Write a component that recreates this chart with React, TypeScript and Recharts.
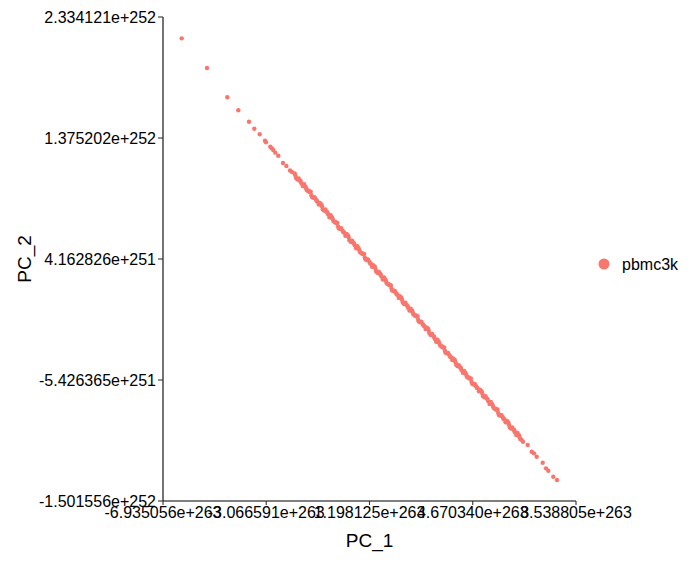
import React from "react";
import { ScatterChart, Scatter, XAxis, YAxis } from "recharts";

// PC_1 in units of 1e263, PC_2 in units of 1e252
const pc1 = [
  -6.234, -5.287, -4.526, -4.114, -3.713, -3.514, -3.312, -3.113, -3.076, -2.915,
  -2.862, -2.803, -2.728, -2.615, -2.439, -2.312, -2.177, -2.102,
  -2.0, -1.9, -1.8, -1.7, -1.6, -1.5, -1.4, -1.3, -1.2, -1.1,
  -1.0, -0.9, -0.8, -0.7, -0.6, -0.5, -0.4, -0.3, -0.2, -0.1,
  0.0, 0.1, 0.2, 0.3, 0.4, 0.5, 0.6, 0.7, 0.8, 0.9,
  1.0, 1.1, 1.2, 1.3, 1.4, 1.5, 1.6, 1.7, 1.8, 1.9,
  2.0, 2.1, 2.2, 2.3, 2.4, 2.5, 2.6, 2.7, 2.8, 2.9,
  3.0, 3.1, 3.2, 3.3, 3.4, 3.5, 3.6, 3.7, 3.8, 3.9,
  4.0, 4.1, 4.2, 4.3, 4.4, 4.5, 4.6, 4.7, 4.8, 4.9,
  5.0, 5.1, 5.2, 5.3, 5.4, 5.5, 5.6, 5.7, 5.8, 5.9,
  6.0, 6.1, 6.2, 6.3, 6.4, 6.5,
  -1.95, -1.85, -1.75, -1.65, -1.55, -1.45, -1.35, -1.25, -1.15, -1.05,
  -0.95, -0.85, -0.75, -0.65, -0.55, -0.45, -0.35, -0.25, -0.15, -0.05,
  0.05, 0.15, 0.25, 0.35, 0.45, 0.55, 0.65, 0.75, 0.85, 0.95,
  1.05, 1.15, 1.25, 1.35, 1.45, 1.55, 1.65, 1.75, 1.85, 1.95,
  2.05, 2.15, 2.25, 2.35, 2.45, 2.55, 2.65, 2.75, 2.85, 2.95,
  3.05, 3.15, 3.25, 3.35, 3.45, 3.55, 3.65, 3.75, 3.85, 3.95,
  4.05, 4.15, 4.25, 4.35, 4.45, 4.55, 4.65, 4.75, 4.85, 4.95,
  5.05, 5.15, 5.25, 5.35, 5.45, 5.55, 5.65, 5.75, 5.85, 5.95,
  6.05, 6.15, 6.25, 6.35, 6.45,
  -1.975, -1.875, -1.775, -1.675, -1.575, -1.475, -1.375, -1.275, -1.175, -1.075,
  -0.975, -0.875, -0.775, -0.675, -0.575, -0.475, -0.375, -0.275, -0.175, -0.075,
  0.025, 0.125, 0.225, 0.325, 0.425, 0.525, 0.625, 0.725, 0.825, 0.925,
  1.025, 1.125, 1.225, 1.325, 1.425, 1.525, 1.625, 1.725, 1.825, 1.925,
  2.025, 2.125, 2.225, 2.325, 2.425, 2.525, 2.625, 2.725, 2.825, 2.925,
  3.025, 3.125, 3.225, 3.325, 3.425, 3.525, 3.625, 3.725, 3.825, 3.925,
  4.025, 4.125, 4.225, 4.325, 4.425, 4.525, 4.625, 4.725, 4.825, 4.925,
  5.025, 5.125, 5.225, 5.325, 5.425, 5.525, 5.625, 5.725, 5.825, 5.925,
  6.025, 6.125, 6.225, 6.325, 6.425,
  6.553, 6.729, 6.879, 6.965, 7.066, 7.291, 7.415, 7.501, 7.688, 7.827,
];
const pc2 = [
  2.165, 1.93, 1.698, 1.595, 1.504, 1.449, 1.405, 1.354, 1.341, 1.306,
  1.294, 1.28, 1.259, 1.235, 1.177, 1.153, 1.118, 1.106,
  1.095, 1.046, 1.037, 0.994, 0.992, 0.956, 0.949, 0.901, 0.886, 0.848,
  0.848, 0.8, 0.79, 0.747, 0.746, 0.709, 0.702, 0.655, 0.639, 0.601,
  0.602, 0.553, 0.543, 0.501, 0.499, 0.462, 0.456, 0.408, 0.392, 0.355,
  0.355, 0.307, 0.297, 0.254, 0.253, 0.216, 0.209, 0.162, 0.146, 0.108,
  0.109, 0.06, 0.05, 0.008, 0.006, -0.031, -0.037, -0.085, -0.101, -0.138,
  -0.138, -0.187, -0.196, -0.239, -0.241, -0.277, -0.284, -0.332, -0.347, -0.385,
  -0.385, -0.433, -0.443, -0.486, -0.487, -0.524, -0.531, -0.578, -0.594, -0.632,
  -0.631, -0.68, -0.69, -0.732, -0.734, -0.771, -0.777, -0.825, -0.84, -0.878,
  -0.878, -0.927, -0.936, -0.979, -0.98, -1.017,
  1.058, 1.055, 1.016, 1.01, 0.963, 0.948, 0.907, 0.904, 0.872, 0.859,
  0.811, 0.808, 0.77, 0.763, 0.717, 0.702, 0.66, 0.658, 0.626, 0.612,
  0.565, 0.562, 0.523, 0.517, 0.47, 0.455, 0.414, 0.411, 0.379, 0.366,
  0.318, 0.315, 0.277, 0.27, 0.223, 0.209, 0.167, 0.164, 0.133, 0.119,
  0.071, 0.069, 0.03, 0.023, -0.023, -0.038, -0.08, -0.082, -0.114, -0.128,
  -0.175, -0.178, -0.217, -0.223, -0.27, -0.285, -0.326, -0.329, -0.361, -0.374,
  -0.422, -0.425, -0.463, -0.47, -0.517, -0.531, -0.573, -0.576, -0.607, -0.621,
  -0.669, -0.671, -0.71, -0.717, -0.763, -0.778, -0.82, -0.822, -0.854, -0.867,
  -0.915, -0.918, -0.956, -0.963, -1.01,
  1.079, 1.049, 1.033, 0.997, 0.977, 0.957, 0.922, 0.905, 0.876, 0.859,
  0.832, 0.803, 0.786, 0.75, 0.731, 0.71, 0.675, 0.659, 0.629, 0.612,
  0.586, 0.556, 0.539, 0.504, 0.484, 0.463, 0.429, 0.412, 0.382, 0.366,
  0.339, 0.309, 0.293, 0.257, 0.237, 0.217, 0.182, 0.165, 0.136, 0.119,
  0.092, 0.063, 0.046, 0.01, -0.009, -0.03, -0.065, -0.081, -0.111, -0.128,
  -0.154, -0.184, -0.201, -0.236, -0.256, -0.277, -0.311, -0.328, -0.358, -0.374,
  -0.401, -0.431, -0.447, -0.483, -0.502, -0.523, -0.558, -0.574, -0.604, -0.621,
  -0.647, -0.677, -0.694, -0.729, -0.749, -0.77, -0.804, -0.821, -0.851, -0.867,
  -0.894, -0.924, -0.94, -0.976, -0.996,
  -1.032, -1.058, -1.111, -1.124, -1.151, -1.198, -1.243, -1.262, -1.309, -1.335,
];

const xTicks = [-6.935056, -3.066591, 0.801874, 4.67034, 8.538805];
const xTickLabels = [
  "-6.935056e+263",
  "-3.066591e+263",
  "1.198125e+263",
  "4.670340e+263",
  "8.538805e+263",
];
const yTicks = [-1.501556, -0.5426365, 0.4162826, 1.375202, 2.334121];
const yTickLabels = [
  "-1.501556e+252",
  "-5.426365e+251",
  "4.162826e+251",
  "1.375202e+252",
  "2.334121e+252",
];

const sampleName = "pbmc3k";
const pointColor = "#F8766D";
const font = "'Liberation Sans', Arial, Helvetica, sans-serif";

const data = pc1.map((x, i) => ({ x, y: pc2[i] }));

const Dot = (props: any) => (
  <circle cx={props.cx} cy={props.cy} r={2.2} fill={pointColor} />
);

export default function App() {
  return (
    <div style={{ position: "absolute", left: 0, top: 0, width: 696, height: 566 }}>
      <ScatterChart
        width={696}
        height={566}
        margin={{ top: 17, right: 120, bottom: 25, left: 0 }}
        style={{ fontFamily: font }}
      >
        <XAxis
          type="number"
          dataKey="x"
          domain={[xTicks[0], xTicks[4]]}
          ticks={xTicks}
          interval={0}
          height={40}
          tickSize={4}
          tickMargin={2}
          tickFormatter={(_v: number, i: number) => xTickLabels[i]}
          tick={{ fill: "#000", fontSize: 16 }}
          axisLine={{ stroke: "#000", strokeWidth: 1.1 }}
          tickLine={{ stroke: "#333", strokeWidth: 1.1 }}
          label={{
            content: (p: any) => (
              <text
                x={p.viewBox.x + p.viewBox.width / 2}
                y={p.viewBox.y + 46}
                textAnchor="middle"
                fontSize={19}
                fill="#000"
              >
                PC_1
              </text>
            ),
          }}
        />
        <YAxis
          type="number"
          dataKey="y"
          domain={[yTicks[0], yTicks[4]]}
          ticks={yTicks}
          interval={0}
          width={163}
          tickSize={5}
          tickMargin={2}
          tickFormatter={(_v: number, i: number) => yTickLabels[i]}
          tick={{ fill: "#000", fontSize: 16 }}
          axisLine={{ stroke: "#000", strokeWidth: 1.1 }}
          tickLine={{ stroke: "#333", strokeWidth: 1.1 }}
          label={{
            content: (p: any) => {
              const cx = 31;
              const cy = p.viewBox.y + p.viewBox.height / 2;
              return (
                <text
                  x={cx}
                  y={cy}
                  textAnchor="middle"
                  fontSize={19}
                  fill="#000"
                  transform={`rotate(-90 ${cx} ${cy})`}
                >
                  PC_2
                </text>
              );
            },
          }}
        />
        <Scatter
          name={sampleName}
          data={data}
          fill={pointColor}
          shape={Dot}
          isAnimationActive={false}
        />
      </ScatterChart>
      <svg
        width={100}
        height={24}
        style={{ position: "absolute", left: 597, top: 252, fontFamily: font }}
      >
        <circle cx={7} cy={12} r={5.5} fill={pointColor} />
        <text x={25} y={17.5} fontSize={16} fill="#000">
          {sampleName}
        </text>
      </svg>
    </div>
  );
}
